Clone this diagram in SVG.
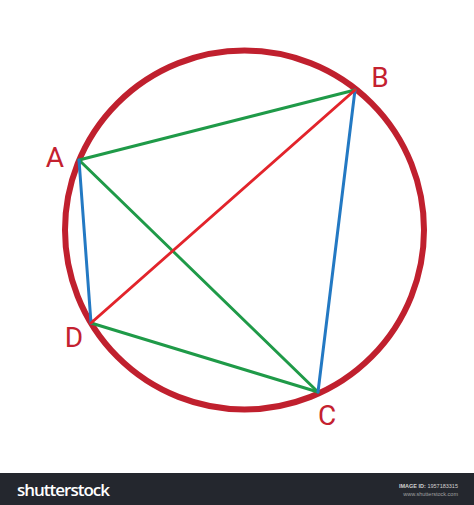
<svg xmlns="http://www.w3.org/2000/svg" width="474" height="505" viewBox="0 0 474 505">
<style>
.lbl{font-family:Roboto,"Liberation Sans",sans-serif;font-size:28px;fill:#c4212f;text-anchor:middle}
.g{stroke:#1f9a48;stroke-width:3;stroke-linecap:round}
.b{stroke:#2379c3;stroke-width:3;stroke-linecap:round}
.r{stroke:#e2242b;stroke-width:3;stroke-linecap:round}
</style>
<rect width="474" height="505" fill="#ffffff"/>
<g id="circle"><circle cx="244.5" cy="230" r="179.5" fill="none" stroke="#c0202e" stroke-width="6"/></g>
<g id="connectors">
<line class="g" x1="79" y1="160" x2="355" y2="90"/>
<line class="g" x1="79" y1="160" x2="318" y2="392"/>
<line class="g" x1="91" y1="323" x2="318" y2="392"/>
<line class="b" x1="79" y1="160" x2="91" y2="323"/>
<line class="b" x1="355" y1="90" x2="318" y2="392"/>
<line class="r" x1="91" y1="323" x2="355" y2="90"/>
</g>
<g id="A"><text class="lbl" x="55" y="167">A</text></g>
<g id="B"><text class="lbl" x="380" y="87">B</text></g>
<g id="C"><text class="lbl" x="327" y="425">C</text></g>
<g id="D"><text class="lbl" x="74" y="347">D</text></g>
<g id="footer">
<rect x="0" y="473" width="474" height="32" fill="#24272e"/>
<text x="17" y="496" textLength="93" font-family="'Open Sans','Liberation Sans',sans-serif" font-size="17" font-weight="600" fill="#ffffff">shutterstock</text>
<text x="458" y="488" text-anchor="end" font-family="'Liberation Sans',sans-serif" font-size="5.5" fill="#d0d0d0"><tspan font-weight="bold">IMAGE ID:</tspan> 1957183315</text>
<text x="458" y="496" text-anchor="end" font-family="'Liberation Sans',sans-serif" font-size="5.5" fill="#a0a0a0">www.shutterstock.com</text>
</g>
</svg>
